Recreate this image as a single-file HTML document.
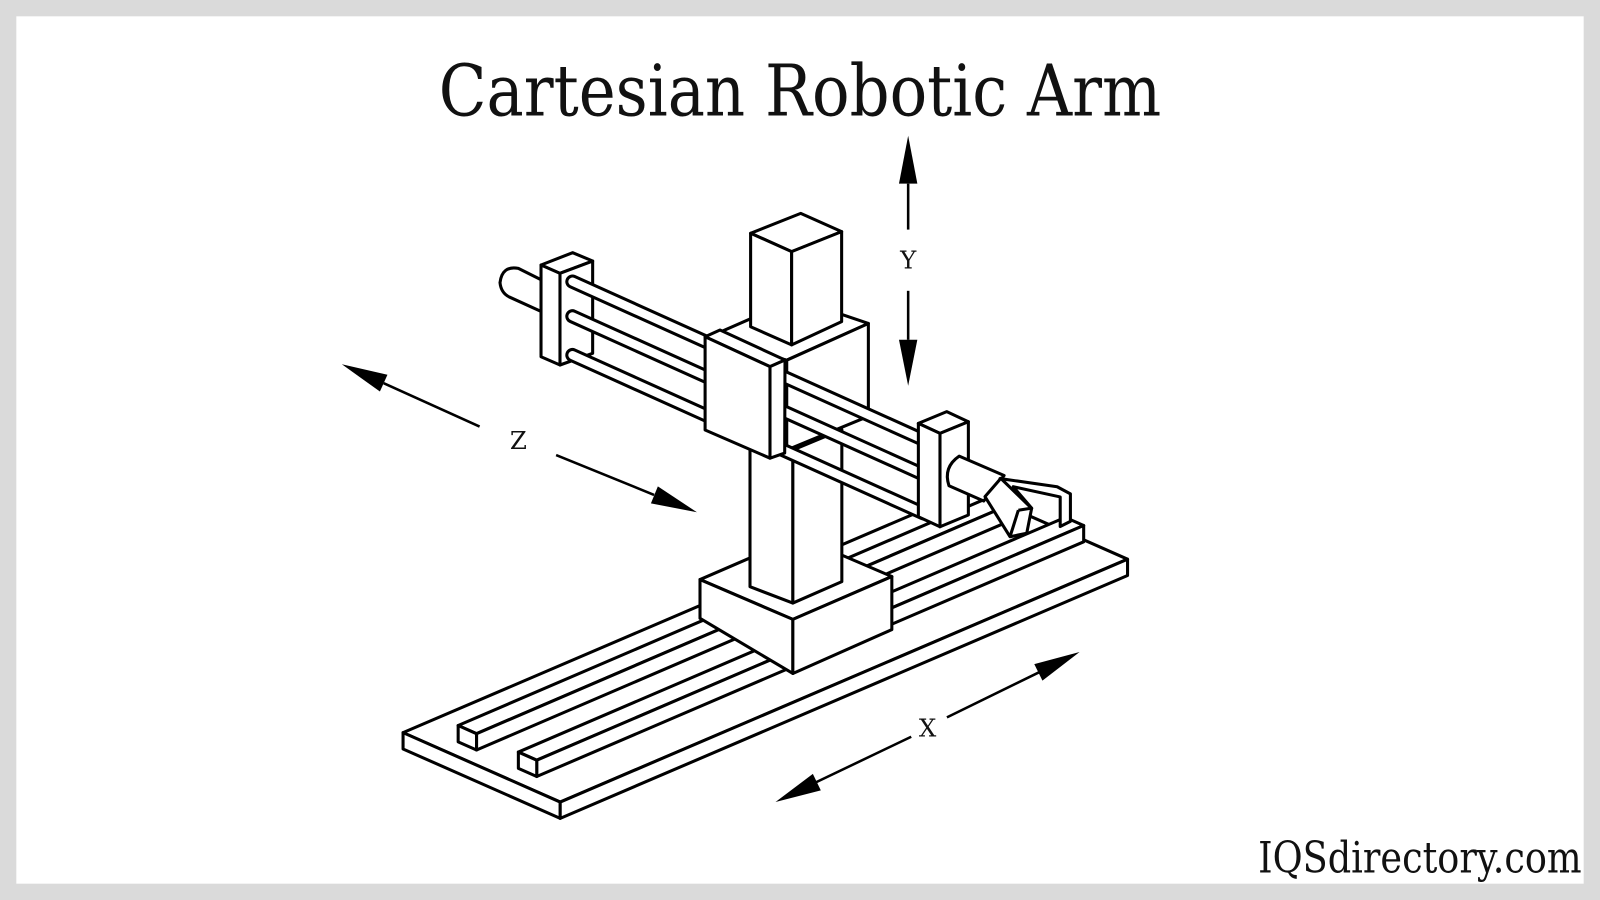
<!DOCTYPE html>
<html><head><meta charset="utf-8"><style>
html,body{margin:0;padding:0;background:#dadada;}
svg{display:block;}
</style></head><body>
<svg width="1600" height="900" viewBox="0 0 1568 882" preserveAspectRatio="none" xmlns="http://www.w3.org/2000/svg">
<rect x="0" y="0" width="1568" height="882" fill="#dadada"/>
<rect x="16" y="16" width="1536" height="850" fill="#fff"/>
<text x="784" y="113" text-anchor="middle" font-family="DejaVu Serif, Liberation Serif, serif" font-size="70" textLength="708" lengthAdjust="spacingAndGlyphs" fill="#111">Cartesian Robotic Arm</text>
<text x="1233" y="855" font-family="DejaVu Serif, Liberation Serif, serif" font-size="42" textLength="317" lengthAdjust="spacingAndGlyphs" fill="#111">IQSdirectory.com</text>

<g fill="#fff" stroke="#000" stroke-width="3" stroke-linejoin="round">
<!-- plate -->
<polygon points="395,718 549,786 1105,548 951,480"/>
<polygon points="395,718 549,786 549,802 395,734"/>
<polygon points="549,786 1105,548 1105,564 549,802"/>
<!-- rails -->
<polygon points="449,711 467,719 1000,490 982,482"/>
<polygon points="467,719 1000,490 1000,506 467,735"/>
<polygon points="449,711 467,719 467,735 449,727"/>
<polygon points="508,737 526,745 1062,515 1044,507"/>
<polygon points="526,745 1062,515 1062,531 526,761"/>
<polygon points="508,737 526,745 526,761 508,753"/>
<!-- carriage base -->
<polygon points="686,568 777,607 874,565 783,526"/>
<polygon points="686,568 777,607 777,660 686,606"/>
<polygon points="777,607 874,565 874,617 777,660"/>
<!-- column -->
<polygon points="735,425 777,441 777,591 735,575"/>
<polygon points="777,441 825,421 825,570 777,591"/>
<!-- upper box -->
<polygon points="693,331 780,293 851,317 771,353"/>
<polygon points="693,331 771,353 771,441 693,410"/>
<polygon points="771,353 851,317 851,408 771,441"/>
<!-- motor -->
<polygon points="735.6,228.6 784.7,209.1 824.8,227 775.8,246.6"/>
<polygon points="735.6,228.6 775.8,246.6 775.8,338 735.6,320.2"/>
<polygon points="775.8,246.6 824.8,227 824.8,315.2 775.8,338"/>
<!-- back cylinder -->
<path d="M532,275 L508,263 Q492,260 490,277 Q491,287 499,291 L532,306 Z"/>
<!-- left end plate -->
<polygon points="530.2,259.7 561.2,247.6 580.8,255.8 548.8,267.9"/>
<polygon points="530.2,259.7 548.8,267.9 548.8,357.7 530.2,349.6"/>
<polygon points="548.8,267.9 580.8,255.8 580.8,346.3 548.8,357.7"/>
</g>
<!-- rods -->
<g stroke-linecap="round" fill="none">
<g stroke="#000" stroke-width="14">
<line x1="561" y1="276" x2="905" y2="431"/>
<line x1="561" y1="310" x2="905" y2="465"/>
<line x1="561" y1="348" x2="905" y2="503"/>
</g>
<g stroke="#fff" stroke-width="8">
<line x1="561" y1="276" x2="905" y2="431"/>
<line x1="561" y1="310" x2="905" y2="465"/>
<line x1="561" y1="348" x2="905" y2="503"/>
</g>
</g>
<g fill="#fff" stroke="#000" stroke-width="3" stroke-linejoin="round">
<!-- slide block -->
<polygon points="691,330 705.6,323.4 769.3,352.8 754.6,359.3"/>
<polygon points="691,330 754.6,359.3 754.6,449 691,421.4"/>
<polygon points="754.6,359.3 769.3,352.8 769,444 754.6,449"/>
<!-- right end plate -->
<polygon points="900,414.9 927.8,403.4 949,413.3 921.2,424.7"/>
<polygon points="900,414.9 921.2,424.7 921.2,516.2 900,506.4"/>
<polygon points="921.2,424.7 949,413.3 949,504.7 921.2,516.2"/>
<!-- gripper cylinder -->
<path d="M940,447 L984,466 L964,491 L930,476 Q924,458 940,447 Z"/>
<!-- gripper hook -->
<polygon points="980,469 1036,477 1049,484 1049,511 1039,516 1039,487 993,477 1011,498"/>
<!-- gripper jaw -->
<polygon points="965.3,486.7 980.8,468.8 1011,498.2 1006.2,522.6 989.8,526"/>
<line x1="998" y1="500" x2="989.8" y2="526"/>
<line x1="998" y1="500" x2="1011" y2="498"/>
</g>
<!-- arrows -->
<g stroke="#000" stroke-width="2.5" fill="none">
<line x1="890" y1="180" x2="890" y2="225"/>
<line x1="890" y1="285" x2="890" y2="333"/>
<line x1="376" y1="375.5" x2="470" y2="418"/>
<line x1="545" y1="446" x2="641" y2="485"/>
<line x1="800" y1="766.5" x2="893" y2="722"/>
<line x1="928" y1="703" x2="1018" y2="659"/>
</g>
<g fill="#000">
<polygon points="890,133 881,180 899,180"/>
<polygon points="890,378 881,333 899,333"/>
<polygon points="335,357 372.3,383.7 379.7,367.3"/>
<polygon points="683,502 637.9,493.3 644.7,476.7"/>
<polygon points="760,786 804.4,774.6 796.6,758.4"/>
<polygon points="1058,639 1021.6,667 1013.6,650.8"/>
</g>
<g font-family="DejaVu Serif, Liberation Serif, serif" font-size="24" fill="#111" text-anchor="middle">
<text x="890" y="263">Y</text>
<text x="508" y="440">Z</text>
<text x="909" y="722">X</text>
</g>
</svg>
</body></html>
